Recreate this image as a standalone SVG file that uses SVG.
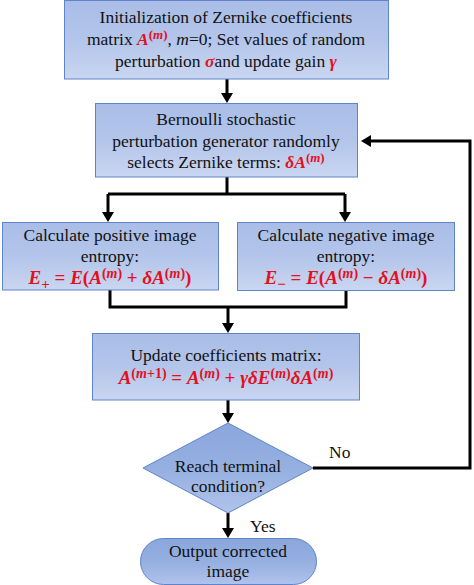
<svg xmlns="http://www.w3.org/2000/svg" width="474" height="585" viewBox="0 0 474 585">
<defs>
<linearGradient id="gBox" x1="0" y1="0" x2="0" y2="1">
<stop offset="0" stop-color="#a9bde7"/>
<stop offset="0.5" stop-color="#b3c5ea"/>
<stop offset="1" stop-color="#cad6f1"/>
</linearGradient>
<linearGradient id="gDia" x1="0" y1="0" x2="0" y2="1">
<stop offset="0" stop-color="#8aa6dc"/>
<stop offset="0.5" stop-color="#95afe0"/>
<stop offset="1" stop-color="#b0c3ea"/>
</linearGradient>
<marker id="arr" markerUnits="userSpaceOnUse" markerWidth="12" markerHeight="12" viewBox="0 0 10 12" refX="2" refY="6" orient="auto">
<path d="M0,0 L10,6 L0,12 z" fill="#000"/>
</marker>
</defs>
<style>
.box{fill:url(#gBox);stroke:#5f84cc;stroke-width:1}
.dia{fill:url(#gDia);stroke:#5f84cc;stroke-width:1}
text{font-family:'Liberation Serif',serif;font-size:17.5px;fill:#111}
.t{text-anchor:middle}
.f{font-size:19px}
.r{fill:#e3101e;font-weight:bold}
.i{font-style:italic}
.sup{font-size:13px;baseline-shift:0.5em}
.f .sup{font-size:14px;baseline-shift:0.42em}
.sub{font-size:15px;baseline-shift:-0.3em}
.c{fill:none;stroke:#000;stroke-width:3}
</style>
<g id="connectors">
<path class="c" d="M227,79 V95" marker-end="url(#arr)"/>
<path class="c" d="M227,177 V194"/>
<path class="c" d="M108,194 H345"/>
<path class="c" d="M108,194 V214" marker-end="url(#arr)"/>
<path class="c" d="M345,194 V214" marker-end="url(#arr)"/>
<path class="c" d="M110,290 V307 H346 V291"/>
<path class="c" d="M228,307 V325" marker-end="url(#arr)"/>
<path class="c" d="M228,400 V415" marker-end="url(#arr)"/>
<path class="c" d="M313,468 H470 V141 H369" marker-end="url(#arr)"/>
<path class="c" d="M228,513 V530" marker-end="url(#arr)"/>
<text x="329" y="458">No</text>
<text x="250" y="532">Yes</text>
</g>
<g id="init">
<rect class="box" x="64.5" y="0.5" width="324" height="78.5"/>
<text class="t" x="226" y="23">Initialization of Zernike coefficients</text>
<text class="t" x="226" y="45">matrix <tspan class="r i">A</tspan><tspan class="r sup">(<tspan class="i">m</tspan>)</tspan>, <tspan class="i">m</tspan>=0; Set values of random</text>
<text class="t" x="226" y="67">perturbation <tspan class="r i">σ</tspan>and update gain <tspan class="r i">γ</tspan></text>
</g>
<g id="bernoulli">
<rect class="box" x="95.5" y="103.5" width="262" height="73.5"/>
<text class="t" x="226" y="125">Bernoulli stochastic</text>
<text class="t" x="226" y="147">perturbation generator randomly</text>
<text class="t" x="226" y="168">selects Zernike terms: <tspan class="r i">δA</tspan><tspan class="r sup">(<tspan class="i">m</tspan>)</tspan></text>
</g>
<g id="positive">
<rect class="box" x="2.5" y="222.5" width="216" height="67.5"/>
<text class="t" x="110" y="241">Calculate positive image</text>
<text class="t" x="110" y="262">entropy:</text>
<text class="t f" x="110" y="284"><tspan class="r i">E</tspan><tspan class="r sub">+</tspan><tspan class="r"> = </tspan><tspan class="r i">E</tspan><tspan class="r">(</tspan><tspan class="r i">A</tspan><tspan class="r sup">(<tspan class="i">m</tspan>)</tspan><tspan class="r"> + </tspan><tspan class="r i">δA</tspan><tspan class="r sup">(<tspan class="i">m</tspan>)</tspan><tspan class="r">)</tspan></text>
</g>
<g id="negative">
<rect class="box" x="237.5" y="222.5" width="217" height="68"/>
<text class="t" x="346" y="241">Calculate negative image</text>
<text class="t" x="346" y="262">entropy:</text>
<text class="t f" x="346" y="284"><tspan class="r i">E</tspan><tspan class="r sub">−</tspan><tspan class="r"> = </tspan><tspan class="r i">E</tspan><tspan class="r">(</tspan><tspan class="r i">A</tspan><tspan class="r sup">(<tspan class="i">m</tspan>)</tspan><tspan class="r"> − </tspan><tspan class="r i">δA</tspan><tspan class="r sup">(<tspan class="i">m</tspan>)</tspan><tspan class="r">)</tspan></text>
</g>
<g id="update">
<rect class="box" x="92.5" y="333.5" width="267" height="66.5"/>
<text class="t" x="226" y="361">Update coefficients matrix:</text>
<text class="t f" x="226" y="384"><tspan class="r i">A</tspan><tspan class="r sup">(<tspan class="i">m</tspan>+1)</tspan><tspan class="r"> = </tspan><tspan class="r i">A</tspan><tspan class="r sup">(<tspan class="i">m</tspan>)</tspan><tspan class="r"> + </tspan><tspan class="r i">γδE</tspan><tspan class="r sup">(<tspan class="i">m</tspan>)</tspan><tspan class="r i">δA</tspan><tspan class="r sup">(<tspan class="i">m</tspan>)</tspan></text>
</g>
<g id="decision">
<polygon class="dia" points="228,423 313,468 228,513 143,468"/>
<text class="t" x="228" y="472">Reach terminal</text>
<text class="t" x="228" y="492">condition?</text>
</g>
<g id="output">
<rect class="dia" x="140.5" y="538.5" width="176" height="46" rx="23" ry="23"/>
<text class="t" x="228" y="557">Output corrected</text>
<text class="t" x="228" y="577">image</text>
</g>
</svg>
